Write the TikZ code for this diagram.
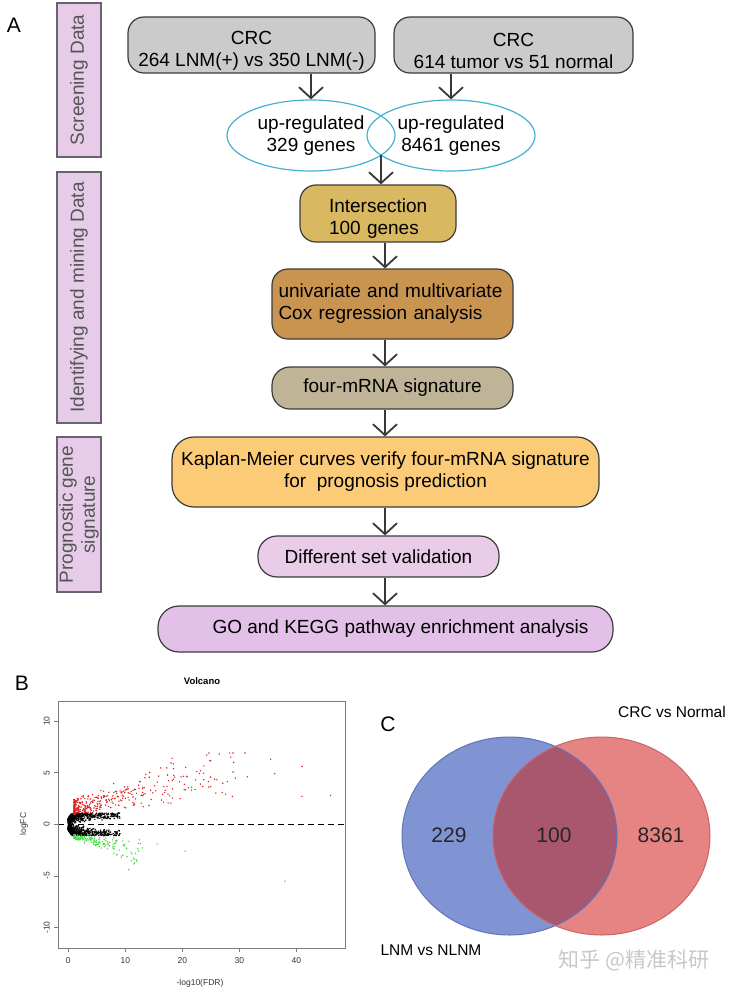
\documentclass[tikz,border=0pt]{standalone}
\usepackage{fontspec}
\setmainfont{Liberation Sans}
\newfontfamily\cjk{Noto Sans CJK SC}
\usetikzlibrary{shapes, arrows.meta}

\definecolor{sidefill}{HTML}{E6CCE8}
\definecolor{sideborder}{HTML}{6A6270}
\definecolor{sidetext}{HTML}{555555}
\definecolor{boxborder}{HTML}{3C3C3C}
\definecolor{grayfill}{HTML}{CBCBCB}
\definecolor{upcyan}{HTML}{45B1CF}
\definecolor{interfill}{HTML}{D9B862}
\definecolor{coxfill}{HTML}{C9944F}
\definecolor{fourfill}{HTML}{BFB497}
\definecolor{kmfill}{HTML}{FCCB78}
\definecolor{validfill}{HTML}{E8CCE8}
\definecolor{gofill}{HTML}{E2C0E8}
\definecolor{arrowgray}{HTML}{383838}
\definecolor{axisgray}{HTML}{7A7A7A}
\definecolor{upred}{HTML}{DD2222}
\definecolor{downgreen}{HTML}{44DD44}
\definecolor{vennblue}{HTML}{8093D3}
\definecolor{vennblueline}{HTML}{6373B8}
\definecolor{vennred}{HTML}{E68383}
\definecolor{vennredline}{HTML}{C86464}
\definecolor{vennmix}{HTML}{A9566F}

\newcommand{\boxfont}{\fontsize{19}{22}\selectfont}
\newcommand{\tickfont}{\fontsize{8.5}{10}\selectfont}

\tikzstyle{side} = [rectangle, draw=sideborder, fill=sidefill, line width=1.2pt,
minimum height=44pt, inner sep=0pt, align=center, text=sidetext, font=\boxfont, rotate=90]
\tikzstyle{block} = [rectangle, draw=boxborder, line width=1.2pt, rounded corners=16pt,
inner sep=0pt, align=center, font=\boxfont]
\tikzstyle{up} = [ellipse, draw=upcyan, line width=1.2pt, minimum width=168pt,
minimum height=71pt, inner sep=0pt, align=center, font=\boxfont]
\tikzstyle{line} = [draw=arrowgray, line width=1.8pt, -{Straight Barb[length=11pt,width=24pt]}]
\tikzstyle{panel} = [font=\fontsize{21}{24}\selectfont]
\tikzstyle{ticklab} = [font=\tickfont, text=black!80, inner sep=1pt]

\begin{document}
\begin{tikzpicture}[x=1pt, y=-1pt]
	\useasboundingbox (0,0) rectangle (730,990);
	
	% Place nodes
	\node [panel] (A) at (14,25) {A};
	\node [side, minimum width=154pt] (S1) at (79,80) {Screening Data};
	\node [side, minimum width=251pt] (S2) at (79,297.5) {Identifying and mining Data};
	\node [side, minimum width=155pt] (S3) at (79,514.5) {Prognostic gene\\signature};
	
	\node [block, fill=grayfill, minimum width=247pt, minimum height=56pt, text height=47pt] (CRC1) at (251.5,45) {CRC\\264 LNM(+) vs 350 LNM(-)};
	\node [block, fill=grayfill, minimum width=239pt, minimum height=56pt, text height=47pt] (CRC2) at (513.5,45) {CRC\\614 tumor vs 51 normal};
	\node [up] (UpL) at (311,135.5) {up-regulated\\329 genes};
	\node [up] (UpR) at (451,135.5) {up-regulated\\8461 genes};
	\coordinate (cap) at (381,155);
	\coordinate (spine) at (385,0);
	
	\node [block, fill=interfill, minimum width=156pt, minimum height=57pt, text width=98pt, text height=24pt, align=left] (Inter) at (378,213.5) {Intersection\\100 genes};
	\node [block, fill=coxfill, minimum width=241pt, minimum height=70pt, text width=228pt, align=left] (Cox) at (392.5,304) {univariate and multivariate\\Cox regression analysis};
	\node [block, fill=fourfill, minimum width=241pt, minimum height=42pt, rounded corners=18pt] (Four) at (392.5,388) {four-mRNA signature};
	\node [block, fill=kmfill, minimum width=427pt, minimum height=70pt, rounded corners=22pt] (KM) at (385.5,472) {Kaplan-Meier curves verify four-mRNA signature\\for\ \ prognosis prediction};
	\node [block, fill=validfill, minimum width=241pt, minimum height=41pt, rounded corners=19pt] (Valid) at (378.5,556.5) {Different set validation};
	\node [block, fill=gofill, minimum width=455pt, minimum height=46pt, rounded corners=21pt] (GO) at (385.5,629) {\hspace*{30pt}GO and KEGG pathway enrichment analysis};
	
	%Draw edges
	\path [line] (UpL.north |- CRC1.south) -- (UpL.north);
	\path [line] (UpR.north |- CRC2.south) -- (UpR.north);
	\path [line] (cap) -- (cap |- Inter.north);
	\path [line] (Inter.south -| spine) -- (Cox.north -| spine);
	\path [line] (Cox.south -| spine) -- (Four.north -| spine);
	\path [line] (Four.south -| spine) -- (KM.north -| spine);
	\path [line] (KM.south -| spine) -- (Valid.north -| spine);
	\path [line] (Valid.south -| spine) -- (GO.north -| spine);
	
	% Volcano plot
	\node [panel] (B) at (22,683) {B};
	\node [font=\bfseries\fontsize{9.5}{11}\selectfont] (title) at (202,681) {Volcano};
	\node [ticklab, rotate=90] (ylab) at (24,824) {logFC};
	\node [ticklab] (xlab) at (200,983) {-log10(FDR)};
	\begin{scope}[shift={(68.3,824.3)}, x=5.7pt, y=10.33pt]
		\pgfmathsetseed{7}
		\foreach \i in {1,...,1500}{
			\pgfmathsetmacro\u{rnd}
			\pgfmathsetmacro\px{0.05+9*\u*\u*\u*\u}
			\pgfmathsetmacro\top{min(1.1,0.35+0.9*sqrt(\px))}
			\pgfmathsetmacro\gap{max(0,min(0.4,0.12*(\px-1.5)))}
			\pgfmathsetmacro\py{(rnd<0.5 ? -1 : 1)*(\gap+(\top-\gap)*sqrt(rnd))}
			\fill [black] (\px,\py) circle (0.8pt);
		}
		\foreach \i in {1,...,380}{
			\pgfmathsetmacro\u{rnd}
			\pgfmathsetmacro\v{rnd}
			\pgfmathsetmacro\px{1+29*\u*\u*\u}
			\pgfmathsetmacro\py{min(6.9,1+1.4*\v*\v+(0.05+0.2*rnd)*(\px-1))}
			\fill [upred] (\px,\py) circle (0.8pt);
		}
		\foreach \px/\py in {46/2.8, 41/2.7, 41/5.6, 35.5/6.3, 31/6.9, 31.4/4.6, 36.2/4.9, 28.8/2.7, 28.5/6.5, 26.5/6.8, 24.3/6.7}
			\fill [upred] (\px,\py) circle (0.8pt);
		\foreach \i in {1,...,170}{
			\pgfmathsetmacro\u{rnd}
			\pgfmathsetmacro\px{1+12*\u*\u}
			\pgfmathsetmacro\py{-1-0.4*rnd-0.25*(\px-1)*rnd}
			\fill [downgreen] (\px,\py) circle (0.8pt);
		}
		\foreach \px/\py in {38/-5.5, 20.5/-2.6, 15.6/-1.9, 10.6/-4.4}
			\fill [downgreen] (\px,\py) circle (0.8pt);
		\draw [black, line width=1.5pt, dash pattern=on 6pt off 4pt] (-1.81,0) -- (48.54,0);
		\draw [axisgray, line width=0.8pt] (-1.81,-11.97) rectangle (48.54,11.94);
		\foreach \t in {0,10,...,40}{
			\draw [axisgray, line width=0.8pt] (\t,-11.97) -- ++(0,-4pt);
			\node [ticklab, anchor=north] at ([yshift=-8pt]\t,-11.97) {\t};
		}
		\foreach \t in {-10,-5,...,10}{
			\draw [axisgray, line width=0.8pt] (-1.81,\t) -- ++(-4pt,0);
			\node [ticklab, rotate=90, anchor=south] at ([xshift=-7pt]-1.81,\t) {\t};
		}
	\end{scope}
	
	% Venn diagram
	\node [panel] (C) at (388,724) {C};
	\fill [vennblue] (509.5,836) ellipse [x radius=107.5pt, y radius=99pt];
	\fill [vennred] (601.5,836) ellipse [x radius=108.5pt, y radius=99pt];
	\begin{scope}
		\clip (509.5,836) ellipse [x radius=107.5pt, y radius=99pt];
		\fill [vennmix] (601.5,836) ellipse [x radius=108.5pt, y radius=99pt];
	\end{scope}
	\draw [vennblueline, line width=1pt] (509.5,836) ellipse [x radius=107.5pt, y radius=99pt];
	\draw [vennredline, line width=1pt] (601.5,836) ellipse [x radius=108.5pt, y radius=99pt];
	\node [font=\fontsize{21}{24}\selectfont, text=black!85] (n229) at (449,835) {229};
	\node [font=\fontsize{21}{24}\selectfont, text=black!85] (n100) at (554,835) {100};
	\node [font=\fontsize{21}{24}\selectfont, text=black!85] (n8361) at (661,835) {8361};
	\node [font=\fontsize{15.5}{18}\selectfont] (crcN) at (672,712) {CRC vs Normal};
	\node [font=\fontsize{15.5}{18}\selectfont] (lnm) at (431,950) {LNM vs NLNM};
	\node [font=\cjk\fontsize{21}{24}\selectfont, text=black!22] (mark) at (634,960) {知乎 @精准科研};
	
\end{tikzpicture}
\end{document}
